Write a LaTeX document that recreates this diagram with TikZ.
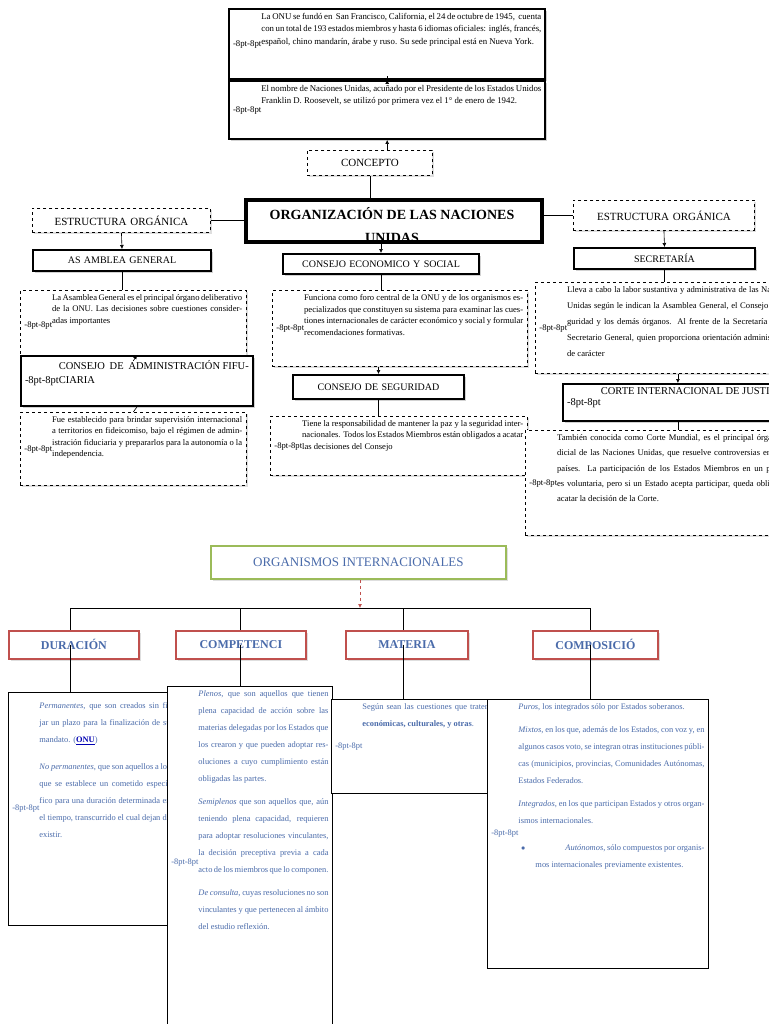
\documentclass[tikz,border=0pt]{standalone}
\usepackage{fontspec}
\setmainfont{Liberation Serif}
\usetikzlibrary{shadows,arrows.meta}
\definecolor{tblue}{HTML}{4A6BAA}
\definecolor{rbord}{HTML}{C0504D}
\definecolor{gbord}{HTML}{9BBB59}
\newcommand\bx[7]{\node[#1,anchor=north west,minimum width=#5pt,minimum height=#6pt,text width=#5pt-8pt] (#2) at (#3,#4) {#7};}
\newcommand\bt[7]{\node[#1,anchor=north west,minimum width=#5pt,minimum height=#6pt] (#2) at (#3,#4) {\parbox[c][#6pt-8pt][t]{#5pt-8pt}{#7}};}
\begin{document}
\begin{tikzpicture}[x=1pt,y=-1pt,
  solidb/.style={draw,line width=2pt,fill=white,inner sep=4pt,drop shadow={shadow xshift=2pt,shadow yshift=-2pt,fill=gray!70},font=\fontsize{8.8}{12.5}\selectfont,align=justify},
  dashb/.style={draw,dashed,line width=0.9pt,fill=white,inner sep=4pt,drop shadow={shadow xshift=2pt,shadow yshift=-2pt,fill=gray!50},font=\fontsize{8.6}{11.5}\selectfont,align=justify},
  hdr/.style={solidb,align=center,font=\fontsize{10}{12}\selectfont},
  hdrl/.style={solidb,align=left,font=\fontsize{10.5}{14}\selectfont},
  dhdr/.style={dashb,align=center,font=\fontsize{11}{13}\selectfont},
  redb/.style={draw=rbord,line width=1.8pt,fill=white,align=center,text=tblue,font=\bfseries\fontsize{12}{14}\selectfont,drop shadow={shadow xshift=2pt,shadow yshift=-2pt,fill=gray!50}},
  txtb/.style={draw,line width=0.8pt,fill=white,inner sep=4pt,text=tblue,font=\fontsize{8.4}{17}\selectfont},
  arr/.style={-{Latex[length=4pt,width=4pt]},line width=0.6pt},
  ln/.style={line width=0.6pt}]
\useasboundingbox (0,0) rectangle (768,1024);
\fill[white] (0,0) rectangle (768,1024);
% top
\bt{solidb}{t1}{228}{8}{280}{62}{La ONU se fundó en \ San Francisco, California, el 24 de octubre de 1945, \ cuenta con un total de 193 estados miembros y hasta 6 idiomas oficiales: inglés, francés, español, chino mandarín, árabe y ruso. Su sede principal está en Nueva York.}
\bt{solidb}{t2}{228}{80}{280}{50}{El nombre de Naciones Unidas, acuñado por el Presidente de los Estados Unidos Franklin D. Roosevelt, se utilizó por primera vez el 1° de enero de 1942.}
\bx{dhdr}{con}{307}{150}{125}{25}{CONCEPTO}
\node[draw,line width=4pt,fill=white,anchor=north west,minimum width=296pt,minimum height=42pt,drop shadow={shadow xshift=2pt,shadow yshift=-2pt,fill=gray!70}] (main) at (244,198) {};
\begin{scope}
\clip (246,200) rectangle (538,240);
\node[font=\bfseries\fontsize{14}{16}\selectfont] at (392,214) {ORGANIZACIÓN DE LAS NACIONES};
\node[font=\bfseries\fontsize{14}{16}\selectfont] at (392,238) {UNIDAS};
\end{scope}
\draw[arr] (t2.north -| t1.south) -- (t1.south);
\draw[arr] (con.north -| t2.south) -- (t2.south);
\draw[ln] (main.north -| con.south) -- (con.south);
% left
\bx{dhdr}{e1}{32}{208}{178}{24}{ESTRUCTURA ORGÁNICA}
\bx{hdr}{ag}{32}{249}{178}{21}{AS AMBLEA GENERAL}
\bt{dashb}{agt}{20}{290}{190}{62}{La Asamblea General es el principal órgano deliberativo de la ONU. Las decisiones sobre cuestiones consideradas importantes}
\bt{hdrl}{cad}{20}{355}{190}{42}{CONSEJO \ DE \ ADMINISTRACIÓN FIFUCIARIA}
\bt{dashb}{cadt}{20}{412}{190}{65}{Fue establecido para brindar supervisión internacional a territorios en fideicomiso, bajo el régimen de administración fiduciaria y prepararlos para la autonomía o la independencia.}
\draw[ln] (e1.east) -- (e1.east -| main.west);
\draw[arr] (e1.south) -- (ag.north);
\draw[ln] (ag.south) -- (ag.south |- agt.north);
\draw[arr] (agt.south) -- (cad.north);
\draw[ln] (cad.south) -- (cadt.north);
% middle
\bx{hdr}{ces}{282}{253}{196}{20}{CONSEJO ECONOMICO Y SOCIAL}
\bt{dashb}{cest}{272}{290}{219}{68}{Funciona como foro central de la ONU y de los organismos especializados que constituyen su sistema para examinar las cuestiones internacionales de carácter económico y social y formular recomendaciones formativas.}
\bx{hdr}{cs}{292}{374}{171}{24}{CONSEJO DE SEGURIDAD}
\bt{dashb}{cst}{270}{416}{221}{51}{Tiene la responsabilidad de mantener la paz y la seguridad internacionales. Todos los Estados Miembros están obligados a acatar las decisiones del Consejo}
\draw[arr] (main.south -| ces.north) -- (ces.north);
\draw[ln] (ces.south) -- (ces.south |- cest.north);
\draw[arr] (cest.south -| cs.north) -- (cs.north);
\draw[ln] (cs.south) -- (cs.south |- cst.north);
% right
\bx{dhdr}{e2}{573}{200}{181}{30}{ESTRUCTURA ORGÁNICA}
\bx{hdr}{sec}{573}{247}{181}{21}{SECRETARÍA}
\bt{dashb}{sect}{535}{282}{226}{83}{\fontsize{8.6}{16}\selectfont Lleva a cabo la labor sustantiva y administrativa de las Naciones Unidas según le indican la Asamblea General, el Consejo de Seguridad y los demás órganos. Al frente de la Secretaría está el Secretario General, quien proporciona orientación administrativa de carácter}
\bt{hdrl}{cij}{562}{383}{188}{29}{CORTE INTERNACIONAL DE JUSTICIA}
\bt{dashb}{cijt}{525}{430}{236}{97}{\fontsize{8.6}{15.3}\selectfont También conocida como Corte Mundial, es el principal órgano judicial de las Naciones Unidas, que resuelve controversias entre los países. La participación de los Estados Miembros en un proceso es voluntaria, pero si un Estado acepta participar, queda obligado a acatar la decisión de la Corte.}
\draw[ln] (main.east |- e2.west) -- (e2.west);
\draw[arr] (e2.south) -- (sec.north);
\draw[ln] (sec.south) -- (sec.south |- sect.north);
\draw[arr] (sect.south -| cij.north) -- (cij.north);
\draw[ln] (cij.south) -- (cij.south |- cijt.north);
% bottom
\node[draw=gbord,line width=1.8pt,fill=white,anchor=north west,minimum width=295pt,minimum height=33pt,text=tblue,font=\fontsize{13}{15}\selectfont,drop shadow={shadow xshift=2pt,shadow yshift=-2pt,fill=gray!50}] (oi) at (210,545) {ORGANISMOS INTERNACIONALES};
\coordinate (hub) at (360,608);
\draw[rbord,dashed,line width=0.7pt,-{Latex[length=4pt,width=4pt]}] (oi.south -| hub) -- (hub);
\node[redb,anchor=north west,minimum width=130pt,minimum height=28pt] (du) at (8,630) {DURACIÓN};
\node[redb,anchor=north west,minimum width=130pt,minimum height=28pt] (co) at (175,630) {COMPETENCI};
\node[redb,anchor=north west,minimum width=122pt,minimum height=28pt] (ma) at (345,630) {MATERIA};
\node[redb,anchor=north west,minimum width=125pt,minimum height=28pt] (cm) at (532,630) {COMPOSICIÓ};
\coordinate (j1) at (70,608); \coordinate (j2) at (240,608); \coordinate (j3) at (403,608); \coordinate (j4) at (590,608);
\bt{txtb}{dut}{8}{692}{131}{225}{\vspace{6pt}\textit{Permanentes}, que son creados sin fijar un plazo para la finalización de su mandato. (\textcolor{blue!70!black}{\bfseries\underline{ONU}})\par\vspace{10pt}
\textit{No permanentes}, que son aquellos a los que se establece un cometido específico para una duración determinada en el tiempo, transcurrido el cual dejan de existir.}
\bt{txtb}{cot}{167}{686}{130}{345}{\textit{Plenos}, que son aquellos que tienen plena capacidad de acción sobre las materias delegadas por los Estados que los crearon y que pueden adoptar resoluciones a cuyo cumplimiento están obligadas las partes.\par\vspace{6pt}
\textit{Semiplenos} que son aquellos que, aún teniendo plena capacidad, requieren para adoptar resoluciones vinculantes, la decisión preceptiva previa a cada acto de los miembros que lo componen.\par\vspace{6pt}
\textit{De consulta}, cuyas resoluciones no son vinculantes y que pertenecen al ámbito del estudio reflexión.}
\bt{txtb}{mat}{331}{699}{129}{86}{Según sean las cuestiones que traten: \textbf{económicas, culturales, y otras}.}
\bt{txtb}{cmt}{487}{699}{186}{261}{\textit{Puros}, los integrados sólo por Estados soberanos.\par\vspace{6pt}
\textit{Mixtos}, en los que, además de los Estados, con voz y, en algunos casos voto, se integran otras instituciones públicas (municipios, provincias, Comunidades Autónomas, Estados Federados.\par\vspace{6pt}
\textit{Integrados}, en los que participan Estados y otros organismos internacionales.\par\vspace{10pt}
\leftskip=17pt\noindent\llap{$\bullet$\hspace{10pt}}\hspace*{30pt}\textit{Autónomos}, sólo compuestos por organismos internacionales previamente existentes.}
\draw[ln] (j1) -- (j4);
\foreach \j/\b/\t in {j1/du/dut,j2/co/cot,j3/ma/mat,j4/cm/cmt}{
  \draw[ln] (\j) -- (\j |- \b.north);
  \draw[ln] (\j |- \b.center) -- (\j |- \t.north);
}
\end{tikzpicture}
\end{document}
